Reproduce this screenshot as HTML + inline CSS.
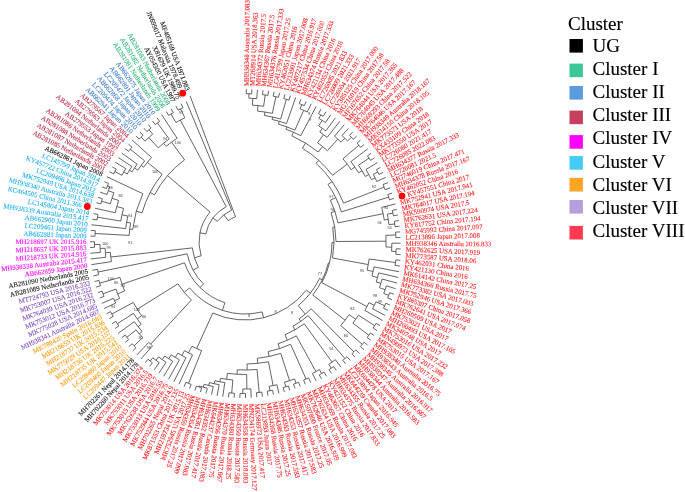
<!DOCTYPE html>
<html><head><meta charset="utf-8"><style>
html,body{margin:0;padding:0;background:#fff;width:685px;height:492px;overflow:hidden}
svg{display:block;font-family:"Liberation Serif","Times New Roman",serif}
</style></head><body>
<svg width="685" height="492" viewBox="0 0 685 492">
<rect width="685" height="492" fill="#fff"/>
<g id="tree" fill="none" stroke="#484848" stroke-width="0.85">
<path d="M228.40,220.71A27.00,27.00 0 0 1 235.50,216.73 M235.50,216.73L190.11,95.97 M228.40,220.71L223.79,214.79 M217.38,221.32A34.50,34.50 0 0 1 231.69,210.17 M231.69,210.17L186.16,101.35 M217.38,221.32L212.98,218.03 M205.82,233.97A40.00,40.00 0 0 1 226.25,206.67 M226.25,206.67L180.32,120.10 M175.90,122.55A138.00,138.00 0 0 1 184.83,117.81 M175.90,122.55L170.97,114.03 M168.63,115.41A147.84,147.84 0 0 1 173.33,112.69 M168.63,115.41L166.31,111.56 M173.33,112.69L171.13,108.73 M184.83,117.81L180.51,108.90 M178.08,110.10A147.90,147.90 0 0 1 182.96,107.74 M178.08,110.10L176.05,106.09 M182.96,107.74L181.06,103.63 M205.82,233.97L199.94,232.76 M201.11,255.77A46.00,46.00 0 0 1 210.07,212.07 M210.07,212.07L167.55,175.63 M154.55,194.85A102.00,102.00 0 0 1 184.54,159.85 M154.55,194.85L150.12,192.53 M142.06,212.82A107.00,107.00 0 0 1 162.13,174.31 M142.06,212.82L136.28,211.18 M132.69,229.50A113.00,113.00 0 0 1 142.84,193.71 M132.69,229.50L129.71,229.17 M129.19,235.42A116.00,116.00 0 0 1 130.57,222.95 M129.19,235.42L95.11,233.49 M94.98,236.24A150.13,150.13 0 0 1 95.29,230.74 M94.98,236.24L90.30,236.06 M95.29,230.74L90.80,230.41 M130.57,222.95L126.63,222.29 M125.75,228.62A120.00,120.00 0 0 1 127.85,216.02 M125.75,228.62L91.51,224.78 M127.85,216.02L121.99,214.72 M120.75,221.10A126.00,126.00 0 0 1 123.56,208.42 M120.75,221.10L97.48,217.18 M97.05,219.89A149.59,149.59 0 0 1 97.96,214.48 M97.05,219.89L92.42,219.20 M97.96,214.48L93.54,213.65 M123.56,208.42L116.81,206.56 M115.25,212.76A133.00,133.00 0 0 1 118.66,200.43 M115.25,212.76L94.85,208.16 M118.66,200.43L112.01,198.24 M110.32,203.76A140.00,140.00 0 0 1 113.93,192.80 M110.32,203.76L101.62,201.29 M100.89,203.93A149.05,149.05 0 0 1 102.39,198.67 M100.89,203.93L96.37,202.73 M102.39,198.67L98.08,197.36 M113.93,192.80L108.31,190.69 M106.95,194.47A146.00,146.00 0 0 1 109.77,186.95 M106.95,194.47L99.98,192.07 M109.77,186.95L107.45,186.01 M106.45,188.54A148.51,148.51 0 0 1 108.50,183.50 M106.45,188.54L102.08,186.85 M108.50,183.50L104.36,181.72 M142.84,193.71L106.83,176.69 M162.13,174.31L147.42,162.29 M143.57,167.25A126.00,126.00 0 0 1 151.51,157.53 M143.57,167.25L141.16,165.47 M137.84,170.18A129.00,129.00 0 0 1 144.68,160.91 M137.84,170.18L134.52,167.95 M132.04,171.79A133.00,133.00 0 0 1 137.13,164.20 M132.04,171.79L129.49,170.21 M127.25,173.95A136.00,136.00 0 0 1 131.85,166.54 M127.25,173.95L123.79,171.95 M121.91,175.31A140.00,140.00 0 0 1 125.76,168.64 M121.91,175.31L114.90,171.51 M113.63,173.90A147.97,147.97 0 0 1 116.21,169.14 M113.63,173.90L109.47,171.75 M116.21,169.14L112.30,166.92 M125.76,168.64L115.29,162.20 M131.85,166.54L118.45,157.60 M137.13,164.20L121.71,153.08 M144.68,160.91L130.26,149.25 M128.58,151.37A147.54,147.54 0 0 1 131.98,147.16 M128.58,151.37L125.03,148.60 M131.98,147.16L128.51,144.25 M151.51,157.53L132.14,140.03 M184.54,159.85L171.50,142.13 M166.13,146.32A124.00,124.00 0 0 1 177.10,138.24 M166.13,146.32L163.58,143.23 M158.28,147.86A128.00,128.00 0 0 1 169.13,138.91 M158.28,147.86L148.79,137.56 M145.03,141.15A142.00,142.00 0 0 1 152.68,134.10 M145.03,141.15L141.07,137.15 M139.16,139.08A147.63,147.63 0 0 1 143.00,135.27 M139.16,139.08L135.94,135.94 M143.00,135.27L139.87,131.99 M152.68,134.10L148.98,129.78 M146.94,131.56A147.69,147.69 0 0 1 151.06,128.04 M146.94,131.56L143.96,128.19 M151.06,128.04L148.18,124.54 M169.13,138.91L157.43,123.00 M155.26,124.62A147.75,147.75 0 0 1 159.62,121.41 M155.26,124.62L152.53,121.05 M159.62,121.41L157.00,117.72 M177.10,138.24L161.60,114.55 M201.11,255.77L194.43,257.87 M198.40,267.25A53.00,53.00 0 0 1 192.33,247.90 M192.33,247.90L110.84,257.03 M111.44,261.67A135.00,135.00 0 0 1 110.40,252.37 M111.44,261.67L91.38,264.63 M110.40,252.37L105.41,252.75 M105.83,257.27A140.00,140.00 0 0 1 105.14,248.23 M105.83,257.27L90.72,258.92 M105.14,248.23L100.14,248.45 M100.38,252.47A145.00,145.00 0 0 1 100.02,244.43 M100.38,252.47L90.27,253.20 M100.02,244.43L94.53,244.52 M94.60,247.30A150.49,150.49 0 0 1 94.51,241.74 M94.60,247.30L90.03,247.47 M94.51,241.74L90.01,241.73 M198.40,267.25L193.12,270.10 M203.52,283.96A59.00,59.00 0 0 1 187.20,253.82 M187.20,253.82L98.04,272.06 M98.62,274.77A150.00,150.00 0 0 1 97.51,269.34 M98.62,274.77L93.33,275.96 M97.51,269.34L92.25,270.31 M203.52,283.96L200.01,287.52 M224.90,302.76A64.00,64.00 0 0 1 184.48,262.80 M184.48,262.80L122.06,284.26 M124.59,290.99A130.00,130.00 0 0 1 119.91,277.40 M124.59,290.99L117.67,293.81 M119.65,298.44A137.47,137.47 0 0 1 115.86,289.11 M119.65,298.44L114.61,300.71 M115.70,303.08A143.00,143.00 0 0 1 113.56,298.32 M115.70,303.08L104.09,308.57 M113.56,298.32L101.82,303.35 M115.86,289.11L103.02,293.79 M104.00,296.41A151.13,151.13 0 0 1 102.08,291.15 M104.00,296.41L99.74,298.05 M102.08,291.15L97.83,292.62 M119.91,277.40L99.71,283.11 M100.50,285.79A150.99,150.99 0 0 1 98.98,280.42 M100.50,285.79L96.12,287.12 M98.98,280.42L94.63,281.56 M224.90,302.76L222.38,310.36 M262.13,311.93A72.00,72.00 0 0 1 189.54,287.91 M189.54,287.91L184.15,292.38 M191.40,300.03A79.00,79.00 0 0 1 177.98,283.82 M177.98,283.82L137.25,309.23 M141.60,315.74A127.00,127.00 0 0 1 133.31,302.46 M141.60,315.74L137.21,318.88 M141.20,324.19A132.40,132.40 0 0 1 133.48,313.36 M141.20,324.19L138.07,326.68 M142.05,331.47A136.40,136.40 0 0 1 134.31,321.71 M142.05,331.47L139.33,333.83 M142.75,337.63A140.00,140.00 0 0 1 136.04,329.91 M142.75,337.63L134.06,345.76 M135.98,347.77A151.90,151.90 0 0 1 132.19,343.72 M135.98,347.77L132.70,350.96 M132.19,343.72L128.84,346.73 M136.04,329.91L126.89,337.30 M128.65,339.44A151.76,151.76 0 0 1 125.17,335.12 M128.65,339.44L125.15,342.37 M125.17,335.12L121.62,337.88 M134.31,321.71L118.25,333.27 M133.48,313.36L117.35,323.69 M118.86,326.01A151.55,151.55 0 0 1 115.88,321.34 M118.86,326.01L115.06,328.54 M115.88,321.34L112.04,323.70 M133.31,302.46L111.85,314.08 M113.19,316.50A151.41,151.41 0 0 1 110.55,311.64 M113.19,316.50L109.21,318.75 M110.55,311.64L106.56,313.71 M191.40,300.03L150.69,344.11 M152.57,345.82A139.00,139.00 0 0 1 148.84,342.37 M152.57,345.82L140.86,358.97 M148.84,342.37L136.71,355.04 M262.13,311.93L263.56,317.76 M306.40,290.10A78.00,78.00 0 0 1 212.78,313.04 M212.78,313.04L196.67,348.55 M201.58,350.64A117.00,117.00 0 0 1 191.87,346.24 M201.58,350.64L188.51,383.32 M191.11,384.33A152.19,152.19 0 0 1 185.94,382.27 M191.11,384.33L189.51,388.54 M185.94,382.27L184.17,386.48 M191.87,346.24L188.52,352.83 M192.57,354.81A124.39,124.39 0 0 1 184.54,350.71 M192.57,354.81L178.90,384.22 M184.54,350.71L181.87,355.50 M186.00,357.70A129.87,129.87 0 0 1 177.83,353.15 M186.00,357.70L173.72,381.77 M177.83,353.15L175.28,357.38 M179.41,359.77A134.80,134.80 0 0 1 171.24,354.84 M179.41,359.77L168.62,379.14 M171.24,354.84L168.72,358.69 M172.76,361.24A139.41,139.41 0 0 1 164.77,356.01 M172.76,361.24L163.67,376.24 M164.77,356.01L162.25,359.59 M166.05,362.18A143.79,143.79 0 0 1 158.53,356.89 M166.05,362.18L158.86,373.13 M158.53,356.89L156.00,360.25 M159.27,362.64A148.00,148.00 0 0 1 152.79,357.77 M159.27,362.64L154.16,369.83 M152.79,357.77L150.19,361.04 M152.38,362.75A152.18,152.18 0 0 1 148.03,359.28 M152.38,362.75L149.60,366.37 M148.03,359.28L145.16,362.75 M306.40,290.10L310.34,293.18 M319.55,278.49A83.00,83.00 0 0 1 298.28,305.65 M298.28,305.65L305.34,314.08 M311.17,308.76A94.00,94.00 0 0 1 299.07,318.89 M311.17,308.76L353.87,351.85 M355.84,349.86A154.66,154.66 0 0 1 351.87,353.80 M355.84,349.86L359.53,353.45 M351.87,353.80L354.98,357.05 M299.07,318.89L300.80,321.34 M308.13,315.65A97.00,97.00 0 0 1 292.96,326.31 M308.13,315.65L344.87,358.51 M346.96,356.69A153.46,153.46 0 0 1 342.75,360.30 M346.96,356.69L350.32,360.47 M342.75,360.30L345.61,363.77 M292.96,326.31L294.94,329.79 M304.28,323.77A101.00,101.00 0 0 1 285.00,334.74 M304.28,323.77L332.06,362.10 M335.29,359.69A148.34,148.34 0 0 1 328.77,364.41 M335.29,359.69L341.02,367.16 M328.77,364.41L331.32,368.13 M333.58,366.55A152.84,152.84 0 0 1 329.02,369.67 M333.58,366.55L336.31,370.38 M329.02,369.67L331.50,373.43 M285.00,334.74L287.37,340.25 M296.36,335.87A107.00,107.00 0 0 1 278.01,343.78 M296.36,335.87L315.91,371.58 M319.40,369.61A147.72,147.72 0 0 1 312.37,373.46 M319.40,369.61L321.66,373.50 M324.03,372.09A152.22,152.22 0 0 1 319.27,374.87 M324.03,372.09L326.58,376.29 M319.27,374.87L321.47,378.79 M312.37,373.46L316.14,380.81 M278.01,343.78L279.56,348.54 M290.60,344.30A112.00,112.00 0 0 1 268.12,351.59 M290.60,344.30L306.07,379.00 M308.54,377.88A150.00,150.00 0 0 1 303.59,380.09 M308.54,377.88L310.76,382.62 M303.59,380.09L305.34,384.23 M268.12,351.59L269.16,356.48 M280.79,353.39A117.00,117.00 0 0 1 257.27,358.35 M280.79,353.39L289.55,380.66 M294.53,378.95A145.64,145.64 0 0 1 284.50,382.18 M294.53,378.95L296.06,383.19 M298.61,382.24A150.14,150.14 0 0 1 293.50,384.09 M298.61,382.24L300.21,386.44 M293.50,384.09L295.00,388.47 M284.50,382.18L285.80,386.77 M288.41,386.01A150.41,150.41 0 0 1 283.17,387.48 M288.41,386.01L289.71,390.31 M283.17,387.48L284.35,391.96 M257.27,358.35L257.80,363.33 M268.44,361.73A122.00,122.00 0 0 1 247.05,363.98 M268.44,361.73L273.11,385.59 M276.99,384.77A146.31,146.31 0 0 1 269.21,386.29 M276.99,384.77L278.93,393.42 M269.21,386.29L269.95,390.73 M272.64,390.26A150.81,150.81 0 0 1 267.26,391.16 M272.64,390.26L273.46,394.68 M267.26,391.16L267.94,395.74 M247.05,363.98L247.15,369.98 M257.00,369.44A128.00,128.00 0 0 1 237.29,369.77 M257.00,369.44L259.16,392.42 M261.88,392.14A151.08,151.08 0 0 1 256.44,392.65 M261.88,392.14L262.38,396.61 M256.44,392.65L256.79,397.27 M237.29,369.77L237.02,374.26 M246.65,374.49A132.50,132.50 0 0 1 227.43,373.33 M246.65,374.49L246.83,388.98 M250.83,388.87A146.99,146.99 0 0 1 242.83,388.97 M250.83,388.87L251.18,397.73 M242.83,388.97L242.76,393.47 M245.53,393.49A151.49,151.49 0 0 1 239.99,393.40 M245.53,393.49L245.54,397.99 M239.99,393.40L239.84,397.98 M227.43,373.33L226.64,379.28 M232.85,379.97A138.50,138.50 0 0 1 220.46,378.31 M232.85,379.97L231.69,393.05 M234.45,393.27A151.63,151.63 0 0 1 228.93,392.78 M234.45,393.27L234.14,397.75 M228.93,392.78L228.45,397.32 M220.46,378.31L219.84,381.75 M224.81,382.56A142.00,142.00 0 0 1 214.91,380.78 M224.81,382.56L222.78,396.68 M214.91,380.78L214.28,383.71 M219.15,384.68A145.00,145.00 0 0 1 209.44,382.57 M219.15,384.68L217.13,395.84 M209.44,382.57L208.70,385.48 M213.31,386.57A148.00,148.00 0 0 1 204.14,384.25 M213.31,386.57L211.51,394.78 M204.14,384.25L203.31,387.13 M207.30,388.22A151.00,151.00 0 0 1 199.35,385.93 M207.30,388.22L205.93,393.53 M199.35,385.93L199.03,386.94 M201.68,387.75A152.05,152.05 0 0 1 196.39,386.07 M201.68,387.75L200.40,392.06 M196.39,386.07L194.93,390.40 M319.55,278.49L322.24,279.81 M328.39,263.03A86.00,86.00 0 0 1 312.77,294.95 M312.77,294.95L345.07,320.19 M349.17,314.65A127.00,127.00 0 0 1 340.69,325.50 M349.17,314.65L355.73,319.23 M358.45,315.18A135.00,135.00 0 0 1 352.86,323.18 M358.45,315.18L374.66,325.64 M376.15,323.28A154.30,154.30 0 0 1 373.13,327.97 M376.15,323.28L379.98,325.65 M373.13,327.97L377.15,330.67 M352.86,323.18L368.83,335.20 M370.50,332.95A154.99,154.99 0 0 1 367.13,337.43 M370.50,332.95L374.14,335.59 M367.13,337.43L370.95,340.41 M340.69,325.50L362.29,344.36 M364.13,342.22A155.68,155.68 0 0 1 360.42,346.47 M364.13,342.22L367.57,345.12 M360.42,346.47L363.97,349.67 M328.39,263.03L329.36,263.27 M332.00,242.61A87.00,87.00 0 0 1 321.89,282.71 M321.89,282.71L366.96,306.58 M368.94,302.69A138.00,138.00 0 0 1 364.85,310.41 M368.94,302.69L374.33,305.33 M376.00,301.80A144.00,144.00 0 0 1 372.56,308.81 M376.00,301.80L384.70,305.77 M385.83,303.23A153.57,153.57 0 0 1 383.52,308.29 M385.83,303.23L389.96,305.03 M383.52,308.29L387.71,310.29 M372.56,308.81L385.27,315.47 M364.85,310.41L382.64,320.56 M332.00,242.61L334.00,242.63 M332.76,227.20A89.00,89.00 0 0 1 332.54,258.03 M332.54,258.03L368.25,264.57 M369.14,258.98A125.30,125.30 0 0 1 367.11,270.10 M369.14,258.98L395.50,262.59 M395.85,259.83A151.90,151.90 0 0 1 395.10,265.33 M395.85,259.83L400.32,260.36 M395.10,265.33L399.82,266.07 M367.11,270.10L373.05,271.47 M374.02,266.92A131.40,131.40 0 0 1 371.93,275.99 M374.02,266.92L399.11,271.76 M371.93,275.99L377.53,277.49 M378.67,272.92A137.20,137.20 0 0 1 376.24,282.01 M378.67,272.92L398.19,277.44 M376.24,282.01L380.83,283.41 M382.08,279.04A142.00,142.00 0 0 1 379.43,287.73 M382.08,279.04L397.05,283.09 M379.43,287.73L385.12,289.66 M386.37,285.80A148.00,148.00 0 0 1 383.76,293.49 M386.37,285.80L395.58,288.66 M383.76,293.49L388.71,295.33 M389.66,292.69A153.29,153.29 0 0 1 387.71,297.94 M389.66,292.69L393.91,294.18 M387.71,297.94L392.03,299.64 M332.76,227.20L334.73,226.87 M331.14,212.66A91.00,91.00 0 0 1 336.00,241.48 M336.00,241.48L386.00,241.19 M385.85,235.40A141.00,141.00 0 0 1 385.91,246.99 M385.85,235.40L395.74,234.93 M395.59,232.18A150.91,150.91 0 0 1 395.85,237.69 M395.59,232.18L400.08,231.89 M395.85,237.69L400.40,237.56 M385.91,246.99L391.75,247.20 M391.84,243.17A146.84,146.84 0 0 1 391.55,251.22 M391.84,243.17L400.56,243.24 M391.55,251.22L396.04,251.50 M396.19,248.74A151.34,151.34 0 0 1 395.84,254.26 M396.19,248.74L400.69,248.94 M395.84,254.26L400.61,254.65 M331.14,212.66L334.93,211.37 M330.36,200.30A95.00,95.00 0 0 1 338.06,222.92 M338.06,222.92L383.13,213.68 M381.69,207.40A141.00,141.00 0 0 1 384.28,220.02 M381.69,207.40L395.40,203.93 M384.28,220.02L388.23,219.40 M387.31,214.18A145.00,145.00 0 0 1 388.96,224.65 M387.31,214.18L392.90,213.08 M392.34,210.38A150.70,150.70 0 0 1 393.40,215.79 M392.34,210.38L396.74,209.44 M393.40,215.79L397.88,215.00 M388.96,224.65L394.72,223.95 M394.36,221.22A150.80,150.80 0 0 1 395.02,226.69 M394.36,221.22L398.82,220.60 M395.02,226.69L399.55,226.23 M330.36,200.30L335.75,197.67 M328.01,184.47A101.00,101.00 0 0 1 341.41,211.89 M341.41,211.89L388.66,197.13 M387.81,194.52A150.50,150.50 0 0 1 389.45,199.76 M387.81,194.52L392.12,193.08 M389.45,199.76L393.86,198.47 M328.01,184.47L332.12,181.62 M316.04,163.33A106.00,106.00 0 0 1 343.60,203.10 M343.60,203.10L384.07,187.14 M383.05,184.61A149.50,149.50 0 0 1 385.05,189.69 M383.05,184.61L388.01,182.55 M385.05,189.69L390.18,187.77 M316.04,163.33L318.72,160.36 M302.43,148.18A110.00,110.00 0 0 1 332.49,175.32 M302.43,148.18L305.57,143.07 M291.86,135.88A116.00,116.00 0 0 1 318.20,152.01 M291.86,135.88L293.47,132.23 M285.96,129.21A120.00,120.00 0 0 1 300.76,135.74 M285.96,129.21L286.82,126.86 M278.54,124.18A122.50,122.50 0 0 1 294.88,130.12 M278.54,124.18L279.36,121.30 M272.08,119.46A125.50,125.50 0 0 1 286.53,123.57 M272.08,119.46L272.62,117.01 M264.44,115.48A128.00,128.00 0 0 1 280.68,119.07 M264.44,115.48L264.97,112.03 M257.53,111.10A131.50,131.50 0 0 1 272.35,113.37 M257.53,111.10L258.05,105.62 M252.44,105.20A137.00,137.00 0 0 1 263.64,106.27 M252.44,105.20L252.81,98.40 M248.88,98.24A143.81,143.81 0 0 1 256.74,98.67 M248.88,98.24L249.00,93.75 M246.29,93.70A148.31,148.31 0 0 1 251.71,93.84 M246.29,93.70L246.33,89.20 M251.71,93.84L251.91,89.31 M256.74,98.67L257.48,89.63 M263.64,106.27L265.19,94.97 M262.51,94.62A148.41,148.41 0 0 1 267.87,95.36 M262.51,94.62L263.04,90.15 M267.87,95.36L268.57,90.88 M272.35,113.37L275.88,96.76 M273.22,96.22A148.48,148.48 0 0 1 278.52,97.35 M273.22,96.22L274.08,91.81 M278.52,97.35L279.55,92.93 M280.68,119.07L286.41,99.34 M283.80,98.60A148.55,148.55 0 0 1 289.01,100.12 M283.80,98.60L284.97,94.26 M289.01,100.12L290.35,95.78 M286.53,123.57L295.67,97.50 M294.88,130.12L303.70,110.34 M300.07,108.78A144.16,144.16 0 0 1 307.28,111.99 M300.07,108.78L301.79,104.62 M299.28,103.61A148.66,148.66 0 0 1 304.29,105.68 M299.28,103.61L300.92,99.42 M304.29,105.68L306.10,101.52 M307.28,111.99L311.20,103.81 M300.76,135.74L316.22,106.29 M318.20,152.01L322.62,146.58 M317.62,142.72A123.00,123.00 0 0 1 327.41,150.69 M317.62,142.72L323.52,134.65 M319.80,132.03A133.00,133.00 0 0 1 327.15,137.40 M319.80,132.03L322.33,128.31 M318.66,125.90A137.50,137.50 0 0 1 325.93,130.84 M318.66,125.90L322.15,120.41 M318.79,118.34A144.00,144.00 0 0 1 325.45,122.57 M318.79,118.34L320.84,114.91 M318.51,113.55A148.00,148.00 0 0 1 323.15,116.31 M318.51,113.55L321.14,108.95 M323.15,116.31L325.98,111.76 M325.45,122.57L330.72,114.74 M325.93,130.84L335.35,117.89 M327.15,137.40L339.86,121.21 M327.41,150.69L337.86,139.11 M334.53,136.20A138.60,138.60 0 0 1 341.10,142.13 M334.53,136.20L344.26,124.70 M341.10,142.13L344.84,138.24 M341.97,135.54A144.00,144.00 0 0 1 347.65,141.01 M341.97,135.54L348.52,128.35 M347.65,141.01L351.43,137.29 M349.50,135.36A149.30,149.30 0 0 1 353.32,139.25 M349.50,135.36L352.65,132.15 M353.32,139.25L356.64,136.10 M332.49,175.32L347.20,164.11 M342.93,158.80A128.50,128.50 0 0 1 351.19,169.64 M342.93,158.80L358.89,145.23 M357.11,143.17A149.45,149.45 0 0 1 360.64,147.33 M357.11,143.17L360.49,140.20 M360.64,147.33L364.19,144.43 M351.19,169.64L354.91,167.10 M350.92,161.56A133.00,133.00 0 0 1 358.60,172.84 M350.92,161.56L367.75,148.78 M358.60,172.84L362.02,170.76 M358.47,165.24A137.00,137.00 0 0 1 365.30,176.45 M358.47,165.24L369.03,158.10 M367.48,155.85A149.74,149.74 0 0 1 370.54,160.37 M367.48,155.85L371.16,153.26 M370.54,160.37L374.40,157.86 M365.30,176.45L368.81,174.53 M365.94,169.51A141.00,141.00 0 0 1 371.48,179.67 M365.94,169.51L377.48,162.59 M371.48,179.67L375.06,177.90 M373.26,174.37A145.00,145.00 0 0 1 376.77,181.49 M373.26,174.37L377.73,172.01 M376.44,169.60A150.06,150.06 0 0 1 378.99,174.44 M376.44,169.60L380.38,167.43 M378.99,174.44L383.10,172.37 M376.77,181.49L385.65,177.41"/>
</g>
<g id="labels" font-size="6.9" stroke-width="0.1">
<text transform="translate(245.0,242.0) rotate(-89.50) translate(156.0,0)" dy="2.4" fill="#ff1a1a" stroke="#ff1a1a">MH938348 Australia 2017.083</text>
<text transform="translate(245.0,242.0) rotate(-87.41) translate(156.2,0)" dy="2.4" fill="#ff1a1a" stroke="#ff1a1a">MT268914 USA 2018.363</text>
<text transform="translate(245.0,242.0) rotate(-85.32) translate(156.4,0)" dy="2.4" fill="#ff1a1a" stroke="#ff1a1a">MH634372 Russia 2017.5</text>
<text transform="translate(245.0,242.0) rotate(-83.23) translate(156.6,0)" dy="2.4" fill="#ff1a1a" stroke="#ff1a1a">MH634367 Russia 2017.5</text>
<text transform="translate(245.0,242.0) rotate(-81.13) translate(156.8,0)" dy="2.4" fill="#ff1a1a" stroke="#ff1a1a">MH634376 Russia 2017.333</text>
<text transform="translate(245.0,242.0) rotate(-79.04) translate(156.9,0)" dy="2.4" fill="#ff1a1a" stroke="#ff1a1a">LC413799 Japan 2017.25</text>
<text transform="translate(245.0,242.0) rotate(-76.95) translate(157.1,0)" dy="2.4" fill="#ff1a1a" stroke="#ff1a1a">KY462051 China 2016</text>
<text transform="translate(245.0,242.0) rotate(-74.86) translate(157.3,0)" dy="2.4" fill="#ff1a1a" stroke="#ff1a1a">LC213901 Japan 2017.008</text>
<text transform="translate(245.0,242.0) rotate(-72.77) translate(157.5,0)" dy="2.4" fill="#ff1a1a" stroke="#ff1a1a">KY407217 China 2016.917</text>
<text transform="translate(245.0,242.0) rotate(-70.68) translate(157.7,0)" dy="2.4" fill="#ff1a1a" stroke="#ff1a1a">KY457534 China 2017.000</text>
<text transform="translate(245.0,242.0) rotate(-68.59) translate(157.9,0)" dy="2.4" fill="#ff1a1a" stroke="#ff1a1a">MH634374 Russia 2017.333</text>
<text transform="translate(245.0,242.0) rotate(-66.49) translate(158.0,0)" dy="2.4" fill="#ff1a1a" stroke="#ff1a1a">KY421134 China 2016</text>
<text transform="translate(245.0,242.0) rotate(-64.40) translate(158.2,0)" dy="2.4" fill="#ff1a1a" stroke="#ff1a1a">KY462053 China 2016</text>
<text transform="translate(245.0,242.0) rotate(-62.31) translate(158.4,0)" dy="2.4" fill="#ff1a1a" stroke="#ff1a1a">LC726005 2021.833</text>
<text transform="translate(245.0,242.0) rotate(-60.22) translate(158.6,0)" dy="2.4" fill="#ff1a1a" stroke="#ff1a1a">LC726009 2021.333</text>
<text transform="translate(245.0,242.0) rotate(-58.13) translate(158.7,0)" dy="2.4" fill="#ff1a1a" stroke="#ff1a1a">LC726004 2021.917</text>
<text transform="translate(245.0,242.0) rotate(-56.04) translate(158.8,0)" dy="2.4" fill="#ff1a1a" stroke="#ff1a1a">KY385125 China 2017.000</text>
<text transform="translate(245.0,242.0) rotate(-53.95) translate(158.9,0)" dy="2.4" fill="#ff1a1a" stroke="#ff1a1a">MG716019 China 2017.58</text>
<text transform="translate(245.0,242.0) rotate(-51.85) translate(159.0,0)" dy="2.4" fill="#ff1a1a" stroke="#ff1a1a">MF167652 China 2017.58</text>
<text transform="translate(245.0,242.0) rotate(-49.76) translate(159.1,0)" dy="2.4" fill="#ff1a1a" stroke="#ff1a1a">MK764044 USA 2017.365</text>
<text transform="translate(245.0,242.0) rotate(-47.67) translate(159.2,0)" dy="2.4" fill="#ff1a1a" stroke="#ff1a1a">MK764045 USA 2017.488</text>
<text transform="translate(245.0,242.0) rotate(-45.58) translate(159.2,0)" dy="2.4" fill="#ff1a1a" stroke="#ff1a1a">MH669293 China 2017.522</text>
<text transform="translate(245.0,242.0) rotate(-43.49) translate(159.3,0)" dy="2.4" fill="#ff1a1a" stroke="#ff1a1a">MK764046 USA 2017.167</text>
<text transform="translate(245.0,242.0) rotate(-41.40) translate(159.4,0)" dy="2.4" fill="#ff1a1a" stroke="#ff1a1a">MH938349 Australia 2018.167</text>
<text transform="translate(245.0,242.0) rotate(-39.31) translate(159.5,0)" dy="2.4" fill="#ff1a1a" stroke="#ff1a1a">MK614150 China 2018.105</text>
<text transform="translate(245.0,242.0) rotate(-37.21) translate(159.6,0)" dy="2.4" fill="#ff1a1a" stroke="#ff1a1a">MK773571 USA 2018</text>
<text transform="translate(245.0,242.0) rotate(-35.12) translate(159.6,0)" dy="2.4" fill="#ff1a1a" stroke="#ff1a1a">KX433109 China 2018</text>
<text transform="translate(245.0,242.0) rotate(-33.03) translate(159.7,0)" dy="2.4" fill="#ff1a1a" stroke="#ff1a1a">MK773550 USA 2017</text>
<text transform="translate(245.0,242.0) rotate(-30.94) translate(159.7,0)" dy="2.4" fill="#ff1a1a" stroke="#ff1a1a">LC726080 2021.417</text>
<text transform="translate(245.0,242.0) rotate(-28.85) translate(159.8,0)" dy="2.4" fill="#ff1a1a" stroke="#ff1a1a">LC726085 2022.083</text>
<text transform="translate(245.0,242.0) rotate(-26.76) translate(159.8,0)" dy="2.4" fill="#ff1a1a" stroke="#ff1a1a">MH634377 Russia 2017.333</text>
<text transform="translate(245.0,242.0) rotate(-24.67) translate(159.9,0)" dy="2.4" fill="#ff1a1a" stroke="#ff1a1a">LC726081 2021.5</text>
<text transform="translate(245.0,242.0) rotate(-22.57) translate(159.9,0)" dy="2.4" fill="#ff1a1a" stroke="#ff1a1a">MG746019 China 2017.471</text>
<text transform="translate(245.0,242.0) rotate(-20.48) translate(160.0,0)" dy="2.4" fill="#ff1a1a" stroke="#ff1a1a">MH634378 Russia 2017.167</text>
<text transform="translate(245.0,242.0) rotate(-18.39) translate(160.0,0)" dy="2.4" fill="#ff1a1a" stroke="#ff1a1a">KY462052 China 2016</text>
<text transform="translate(245.0,242.0) rotate(-16.30) translate(169.1,0)" dy="2.4" fill="#ff1a1a" stroke="#ff1a1a">KY457551 China 2017</text>
<text transform="translate(245.0,242.0) rotate(-14.21) translate(160.1,0)" dy="2.4" fill="#ff1a1a" stroke="#ff1a1a">MK752941 USA 2017.941</text>
<text transform="translate(245.0,242.0) rotate(-12.11) translate(160.2,0)" dy="2.4" fill="#ff1a1a" stroke="#ff1a1a">MK764017 USA 2017.194</text>
<text transform="translate(245.0,242.0) rotate(-10.02) translate(160.2,0)" dy="2.4" fill="#ff1a1a" stroke="#ff1a1a">MK590974 USA 2017.5</text>
<text transform="translate(245.0,242.0) rotate(-7.92) translate(160.3,0)" dy="2.4" fill="#ff1a1a" stroke="#ff1a1a">MK762631 USA 2017.224</text>
<text transform="translate(245.0,242.0) rotate(-5.83) translate(160.4,0)" dy="2.4" fill="#ff1a1a" stroke="#ff1a1a">KY817752 China 2017.194</text>
<text transform="translate(245.0,242.0) rotate(-3.73) translate(160.4,0)" dy="2.4" fill="#ff1a1a" stroke="#ff1a1a">MG745992 China 2017.097</text>
<text transform="translate(245.0,242.0) rotate(-1.64) translate(160.5,0)" dy="2.4" fill="#ff1a1a" stroke="#ff1a1a">LC213896 Japan 2017.008</text>
<text transform="translate(245.0,242.0) rotate(0.46) translate(160.5,0)" dy="2.4" fill="#ff1a1a" stroke="#ff1a1a">MH938346 Australia 2016.833</text>
<text transform="translate(245.0,242.0) rotate(2.55) translate(160.8,0)" dy="2.4" fill="#ff1a1a" stroke="#ff1a1a">MK762625 USA 2017.919</text>
<text transform="translate(245.0,242.0) rotate(4.65) translate(161.0,0)" dy="2.4" fill="#ff1a1a" stroke="#ff1a1a">MK773587 USA 2018.06</text>
<text transform="translate(245.0,242.0) rotate(6.74) translate(161.2,0)" dy="2.4" fill="#ff1a1a" stroke="#ff1a1a">KY462031 China 2016</text>
<text transform="translate(245.0,242.0) rotate(8.84) translate(161.4,0)" dy="2.4" fill="#ff1a1a" stroke="#ff1a1a">KY421130 China 2016</text>
<text transform="translate(245.0,242.0) rotate(10.93) translate(161.6,0)" dy="2.4" fill="#ff1a1a" stroke="#ff1a1a">MK614142 China 2017.25</text>
<text transform="translate(245.0,242.0) rotate(13.03) translate(161.8,0)" dy="2.4" fill="#ff1a1a" stroke="#ff1a1a">MH634366 Russia 2017.75</text>
<text transform="translate(245.0,242.0) rotate(15.12) translate(162.0,0)" dy="2.4" fill="#ff1a1a" stroke="#ff1a1a">MK773382 USA 2017.003</text>
<text transform="translate(245.0,242.0) rotate(17.22) translate(162.1,0)" dy="2.4" fill="#ff1a1a" stroke="#ff1a1a">MK752946 USA 2017.366</text>
<text transform="translate(245.0,242.0) rotate(19.31) translate(162.3,0)" dy="2.4" fill="#ff1a1a" stroke="#ff1a1a">KY865307 China 2017.058</text>
<text transform="translate(245.0,242.0) rotate(21.41) translate(162.4,0)" dy="2.4" fill="#ff1a1a" stroke="#ff1a1a">MK762641 USA 2017.074</text>
<text transform="translate(245.0,242.0) rotate(23.50) translate(162.6,0)" dy="2.4" fill="#ff1a1a" stroke="#ff1a1a">MH260509 USA 2017</text>
<text transform="translate(245.0,242.0) rotate(25.57) translate(162.7,0)" dy="2.4" fill="#ff1a1a" stroke="#ff1a1a">MK753021 USA 2017</text>
<text transform="translate(245.0,242.0) rotate(27.64) translate(162.8,0)" dy="2.4" fill="#ff1a1a" stroke="#ff1a1a">MH260493 USA 2017.105</text>
<text transform="translate(245.0,242.0) rotate(29.72) translate(163.0,0)" dy="2.4" fill="#ff1a1a" stroke="#ff1a1a">MK340748 USA 2017</text>
<text transform="translate(245.0,242.0) rotate(31.79) translate(163.4,0)" dy="2.4" fill="#ff1a1a" stroke="#ff1a1a">MK753016 USA 2017.232</text>
<text transform="translate(245.0,242.0) rotate(33.86) translate(164.0,0)" dy="2.4" fill="#ff1a1a" stroke="#ff1a1a">MN490973 USA 2017.388</text>
<text transform="translate(245.0,242.0) rotate(35.93) translate(164.5,0)" dy="2.4" fill="#ff1a1a" stroke="#ff1a1a">MK753015 USA 2017.167</text>
<text transform="translate(245.0,242.0) rotate(38.00) translate(165.0,0)" dy="2.4" fill="#ff1a1a" stroke="#ff1a1a">MH938340 Australia 2016.75</text>
<text transform="translate(245.0,242.0) rotate(40.08) translate(165.5,0)" dy="2.4" fill="#ff1a1a" stroke="#ff1a1a">MH938343 Australia 2016.5</text>
<text transform="translate(245.0,242.0) rotate(42.15) translate(166.0,0)" dy="2.4" fill="#ff1a1a" stroke="#ff1a1a">MH938345 Australia 2016.917</text>
<text transform="translate(245.0,242.0) rotate(44.22) translate(165.6,0)" dy="2.4" fill="#ff1a1a" stroke="#ff1a1a">MH938347 Australia 2016.667</text>
<text transform="translate(245.0,242.0) rotate(46.29) translate(165.2,0)" dy="2.4" fill="#ff1a1a" stroke="#ff1a1a">MH938344 Australia 2016.583</text>
<text transform="translate(245.0,242.0) rotate(48.36) translate(164.8,0)" dy="2.4" fill="#ff1a1a" stroke="#ff1a1a">MK604478 USA 2017</text>
<text transform="translate(245.0,242.0) rotate(50.43) translate(164.4,0)" dy="2.4" fill="#ff1a1a" stroke="#ff1a1a">LC213894 Japan 2016.945</text>
<text transform="translate(245.0,242.0) rotate(52.51) translate(164.1,0)" dy="2.4" fill="#ff1a1a" stroke="#ff1a1a">MK644239 Canada 2017.083</text>
<text transform="translate(245.0,242.0) rotate(54.58) translate(163.8,0)" dy="2.4" fill="#ff1a1a" stroke="#ff1a1a">MH634355 Russia 2017.25</text>
<text transform="translate(245.0,242.0) rotate(56.65) translate(163.5,0)" dy="2.4" fill="#ff1a1a" stroke="#ff1a1a">MH634375 Russia 2017.833</text>
<text transform="translate(245.0,242.0) rotate(58.72) translate(163.2,0)" dy="2.4" fill="#ff1a1a" stroke="#ff1a1a">KY421152 China 2016</text>
<text transform="translate(245.0,242.0) rotate(60.79) translate(163.0,0)" dy="2.4" fill="#ff1a1a" stroke="#ff1a1a">KY462057 China 2016</text>
<text transform="translate(245.0,242.0) rotate(62.87) translate(162.9,0)" dy="2.4" fill="#ff1a1a" stroke="#ff1a1a">MH634369 Russia 2017.083</text>
<text transform="translate(245.0,242.0) rotate(64.94) translate(162.8,0)" dy="2.4" fill="#ff1a1a" stroke="#ff1a1a">MK762634 USA 2016.999</text>
<text transform="translate(245.0,242.0) rotate(67.01) translate(162.6,0)" dy="2.4" fill="#ff1a1a" stroke="#ff1a1a">MK762640 USA 2016.939</text>
<text transform="translate(245.0,242.0) rotate(69.08) translate(162.5,0)" dy="2.4" fill="#ff1a1a" stroke="#ff1a1a">MK507800 France 2017.05</text>
<text transform="translate(245.0,242.0) rotate(71.15) translate(162.5,0)" dy="2.4" fill="#ff1a1a" stroke="#ff1a1a">MH634351 Russia 2017.25</text>
<text transform="translate(245.0,242.0) rotate(73.23) translate(162.4,0)" dy="2.4" fill="#ff1a1a" stroke="#ff1a1a">MH634357 Russia 2017.583</text>
<text transform="translate(245.0,242.0) rotate(75.30) translate(162.4,0)" dy="2.4" fill="#ff1a1a" stroke="#ff1a1a">MH634353 Russia 2017.417</text>
<text transform="translate(245.0,242.0) rotate(77.37) translate(162.3,0)" dy="2.4" fill="#ff1a1a" stroke="#ff1a1a">MH634383 Russia 2017.583</text>
<text transform="translate(245.0,242.0) rotate(79.44) translate(162.3,0)" dy="2.4" fill="#ff1a1a" stroke="#ff1a1a">MH634386 Russia 2017.25</text>
<text transform="translate(245.0,242.0) rotate(81.51) translate(162.2,0)" dy="2.4" fill="#ff1a1a" stroke="#ff1a1a">MH634368 Russia 2017.75</text>
<text transform="translate(245.0,242.0) rotate(83.58) translate(162.2,0)" dy="2.4" fill="#ff1a1a" stroke="#ff1a1a">LC213893 Japan 2017</text>
<text transform="translate(245.0,242.0) rotate(85.66) translate(162.1,0)" dy="2.4" fill="#ff1a1a" stroke="#ff1a1a">MK586973 USA 2017.417</text>
<text transform="translate(245.0,242.0) rotate(87.73) translate(162.1,0)" dy="2.4" fill="#ff1a1a" stroke="#ff1a1a">MN234174 Germany 2017.127</text>
<text transform="translate(245.0,242.0) rotate(89.80) translate(162.0,0)" dy="2.4" fill="#ff1a1a" stroke="#ff1a1a">MH634358 Russia 2018.083</text>
<text transform="translate(245.0,242.0) rotate(91.89) translate(162.0,0)" dy="2.4" fill="#ff1a1a" stroke="#ff1a1a">MH634350 Russia 2017.583</text>
<text transform="translate(245.0,242.0) rotate(93.99) translate(162.0,0)" dy="2.4" fill="#ff1a1a" stroke="#ff1a1a">MH634380 Russia 2018.25</text>
<text transform="translate(245.0,242.0) rotate(96.08) translate(162.0,0)" dy="2.4" fill="#ff1a1a" stroke="#ff1a1a">MH634370 Russia 2017.667</text>
<text transform="translate(245.0,242.0) rotate(98.18) translate(162.0,0)" dy="2.4" fill="#ff1a1a" stroke="#ff1a1a">MH634356 Russia 2017.75</text>
<text transform="translate(245.0,242.0) rotate(100.27) translate(162.0,0)" dy="2.4" fill="#ff1a1a" stroke="#ff1a1a">MK644237 Canada 2017.083</text>
<text transform="translate(245.0,242.0) rotate(102.36) translate(162.0,0)" dy="2.4" fill="#ff1a1a" stroke="#ff1a1a">MH634352 Russia 2017.417</text>
<text transform="translate(245.0,242.0) rotate(104.46) translate(162.0,0)" dy="2.4" fill="#ff1a1a" stroke="#ff1a1a">MH634361 Russia 2017.083</text>
<text transform="translate(245.0,242.0) rotate(106.55) translate(162.0,0)" dy="2.4" fill="#ff1a1a" stroke="#ff1a1a">MH634354 Russia 2017.000</text>
<text transform="translate(245.0,242.0) rotate(108.65) translate(162.0,0)" dy="2.4" fill="#ff1a1a" stroke="#ff1a1a">MH634359 Russia 2017.25</text>
<text transform="translate(245.0,242.0) rotate(110.74) translate(162.0,0) rotate(180)" text-anchor="end" dy="2.4" fill="#ff1a1a" stroke="#ff1a1a">MK752945 USA 2017.25</text>
<text transform="translate(245.0,242.0) rotate(112.83) translate(162.0,0) rotate(180)" text-anchor="end" dy="2.4" fill="#ff1a1a" stroke="#ff1a1a">MH218734 UK 2015.13</text>
<text transform="translate(245.0,242.0) rotate(114.93) translate(162.0,0) rotate(180)" text-anchor="end" dy="2.4" fill="#ff1a1a" stroke="#ff1a1a">MK871553 China 2017.135</text>
<text transform="translate(245.0,242.0) rotate(117.02) translate(162.0,0) rotate(180)" text-anchor="end" dy="2.4" fill="#ff1a1a" stroke="#ff1a1a">MH702265 Nepal 2014.9</text>
<text transform="translate(245.0,242.0) rotate(119.12) translate(162.0,0) rotate(180)" text-anchor="end" dy="2.4" fill="#ff1a1a" stroke="#ff1a1a">MK752944 USA 2016.75</text>
<text transform="translate(245.0,242.0) rotate(121.21) translate(162.0,0) rotate(180)" text-anchor="end" dy="2.4" fill="#ff1a1a" stroke="#ff1a1a">MK753013 USA 2016.55</text>
<text transform="translate(245.0,242.0) rotate(123.30) translate(162.0,0) rotate(180)" text-anchor="end" dy="2.4" fill="#ff1a1a" stroke="#ff1a1a">MK762638 USA 2016.7</text>
<text transform="translate(245.0,242.0) rotate(125.40) translate(162.0,0) rotate(180)" text-anchor="end" dy="2.4" fill="#ff1a1a" stroke="#ff1a1a">MK753015 USA 2016.719</text>
<text transform="translate(245.0,242.0) rotate(127.49) translate(162.0,0) rotate(180)" text-anchor="end" dy="2.4" fill="#ff1a1a" stroke="#ff1a1a">MK753011 USA 2016.5</text>
<text transform="translate(245.0,242.0) rotate(129.58) translate(162.0,0) rotate(180)" text-anchor="end" dy="2.4" fill="#ff1a1a" stroke="#ff1a1a">MK753014 USA 2016.374</text>
<text transform="translate(245.0,242.0) rotate(131.68) translate(162.0,0) rotate(180)" text-anchor="end" dy="2.4" fill="#111111" stroke="#111111">MH702260 Nepal 2014.178</text>
<text transform="translate(245.0,242.0) rotate(133.77) translate(162.0,0) rotate(180)" text-anchor="end" dy="2.4" fill="#111111" stroke="#111111">MH702261 Nepal 2014.178</text>
<text transform="translate(245.0,242.0) rotate(135.87) translate(162.0,0) rotate(180)" text-anchor="end" dy="2.4" fill="#ff9a10" stroke="#ff9a10">LC209447 Japan 2011</text>
<text transform="translate(245.0,242.0) rotate(137.96) translate(162.0,0) rotate(180)" text-anchor="end" dy="2.4" fill="#ff9a10" stroke="#ff9a10">LC209460 Japan 2010</text>
<text transform="translate(245.0,242.0) rotate(140.05) translate(162.0,0) rotate(180)" text-anchor="end" dy="2.4" fill="#ff9a10" stroke="#ff9a10">LC209480 Japan 2010</text>
<text transform="translate(245.0,242.0) rotate(142.15) translate(162.0,0) rotate(180)" text-anchor="end" dy="2.4" fill="#ff9a10" stroke="#ff9a10">MH218735 UK 2015.541</text>
<text transform="translate(245.0,242.0) rotate(144.24) translate(162.0,0) rotate(180)" text-anchor="end" dy="2.4" fill="#ff9a10" stroke="#ff9a10">MH218736 UK 2015.225</text>
<text transform="translate(245.0,242.0) rotate(146.34) translate(162.0,0) rotate(180)" text-anchor="end" dy="2.4" fill="#ff9a10" stroke="#ff9a10">MK775029 USA 2016.157</text>
<text transform="translate(245.0,242.0) rotate(148.43) translate(162.0,0) rotate(180)" text-anchor="end" dy="2.4" fill="#ff9a10" stroke="#ff9a10">MH218737 UK 2015.534</text>
<text transform="translate(245.0,242.0) rotate(150.52) translate(161.9,0) rotate(180)" text-anchor="end" dy="2.4" fill="#ff9a10" stroke="#ff9a10">MH218655 UK 2015.836</text>
<text transform="translate(245.0,242.0) rotate(152.62) translate(161.7,0) rotate(180)" text-anchor="end" dy="2.4" fill="#ff9a10" stroke="#ff9a10">MK789420 Spain 2016.083</text>
<text transform="translate(245.0,242.0) rotate(154.71) translate(161.5,0) rotate(180)" text-anchor="end" dy="2.4" fill="#8050c0" stroke="#8050c0">MH938341 Australia 2014.667</text>
<text transform="translate(245.0,242.0) rotate(156.81) translate(161.2,0) rotate(180)" text-anchor="end" dy="2.4" fill="#8050c0" stroke="#8050c0">MK775028 USA 2014.685</text>
<text transform="translate(245.0,242.0) rotate(158.90) translate(161.0,0) rotate(180)" text-anchor="end" dy="2.4" fill="#8050c0" stroke="#8050c0">MK753012 USA 2016.773</text>
<text transform="translate(245.0,242.0) rotate(161.02) translate(160.8,0) rotate(180)" text-anchor="end" dy="2.4" fill="#8050c0" stroke="#8050c0">MK764039 USA 2016.232</text>
<text transform="translate(245.0,242.0) rotate(163.14) translate(160.5,0) rotate(180)" text-anchor="end" dy="2.4" fill="#8050c0" stroke="#8050c0">MK753007 USA 2016.522</text>
<text transform="translate(245.0,242.0) rotate(165.26) translate(160.3,0) rotate(180)" text-anchor="end" dy="2.4" fill="#8050c0" stroke="#8050c0">MT724793 USA 2016.333</text>
<text transform="translate(245.0,242.0) rotate(167.38) translate(160.0,0) rotate(180)" text-anchor="end" dy="2.4" fill="#111111" stroke="#111111">AB281089 Netherlands 2005</text>
<text transform="translate(245.0,242.0) rotate(169.50) translate(159.8,0) rotate(180)" text-anchor="end" dy="2.4" fill="#111111" stroke="#111111">AB281090 Netherlands 2005</text>
<text transform="translate(245.0,242.0) rotate(171.62) translate(159.5,0) rotate(180)" text-anchor="end" dy="2.4" fill="#ff00ff" stroke="#ff00ff">AB662859 Japan 2008</text>
<text transform="translate(245.0,242.0) rotate(173.74) translate(159.3,0) rotate(180)" text-anchor="end" dy="2.4" fill="#ff00ff" stroke="#ff00ff">MH938338 Australia 2015.417</text>
<text transform="translate(245.0,242.0) rotate(175.86) translate(159.1,0) rotate(180)" text-anchor="end" dy="2.4" fill="#ff00ff" stroke="#ff00ff">MH218733 UK 2014.916</text>
<text transform="translate(245.0,242.0) rotate(177.98) translate(158.8,0) rotate(180)" text-anchor="end" dy="2.4" fill="#ff00ff" stroke="#ff00ff">MH218657 UK 2015.883</text>
<text transform="translate(245.0,242.0) rotate(180.10) translate(158.6,0) rotate(180)" text-anchor="end" dy="2.4" fill="#ff00ff" stroke="#ff00ff">MH218697 UK 2015.916</text>
<text transform="translate(245.0,242.0) rotate(182.20) translate(158.5,0) rotate(180)" text-anchor="end" dy="2.4" fill="#20b0f0" stroke="#20b0f0">AB662881 Japan 2009</text>
<text transform="translate(245.0,242.0) rotate(184.30) translate(158.5,0) rotate(180)" text-anchor="end" dy="2.4" fill="#20b0f0" stroke="#20b0f0">LC209461 Japan 2009</text>
<text transform="translate(245.0,242.0) rotate(186.40) translate(158.4,0) rotate(180)" text-anchor="end" dy="2.4" fill="#20b0f0" stroke="#20b0f0">AB662900 Japan 2010</text>
<text transform="translate(245.0,242.0) rotate(188.50) translate(158.3,0) rotate(180)" text-anchor="end" dy="2.4" fill="#20b0f0" stroke="#20b0f0">MH938339 Australia 2015.417</text>
<text transform="translate(245.0,242.0) rotate(190.60) translate(158.3,0) rotate(180)" text-anchor="end" dy="2.4" fill="#20b0f0" stroke="#20b0f0">LC145804 Japan 2014</text>
<text transform="translate(245.0,242.0) rotate(192.70) translate(167.2,0) rotate(180)" text-anchor="end" dy="2.4" fill="#20b0f0" stroke="#20b0f0">KC464505 China 2011.366</text>
<text transform="translate(245.0,242.0) rotate(194.80) translate(158.1,0) rotate(180)" text-anchor="end" dy="2.4" fill="#20b0f0" stroke="#20b0f0">MH938340 Australia 2013.383</text>
<text transform="translate(245.0,242.0) rotate(196.90) translate(158.1,0) rotate(180)" text-anchor="end" dy="2.4" fill="#20b0f0" stroke="#20b0f0">MK752949 USA 2014.638</text>
<text transform="translate(245.0,242.0) rotate(199.00) translate(158.0,0) rotate(180)" text-anchor="end" dy="2.4" fill="#20b0f0" stroke="#20b0f0">LC209466 Japan 2012</text>
<text transform="translate(245.0,242.0) rotate(201.10) translate(157.9,0) rotate(180)" text-anchor="end" dy="2.4" fill="#20b0f0" stroke="#20b0f0">KY457722 China 2014.917</text>
<text transform="translate(245.0,242.0) rotate(203.20) translate(157.9,0) rotate(180)" text-anchor="end" dy="2.4" fill="#20b0f0" stroke="#20b0f0">LC145799 Japan 2014</text>
<text transform="translate(245.0,242.0) rotate(205.30) translate(157.8,0) rotate(180)" text-anchor="end" dy="2.4" fill="#111111" stroke="#111111">AB662861 Japan 2008</text>
<text transform="translate(245.0,242.0) rotate(207.40) translate(157.7,0) rotate(180)" text-anchor="end" dy="2.4" fill="#c0304a" stroke="#c0304a">AB281085 Netherlands 2001</text>
<text transform="translate(245.0,242.0) rotate(209.50) translate(157.7,0) rotate(180)" text-anchor="end" dy="2.4" fill="#c0304a" stroke="#c0304a">AB281087 Netherlands 2002</text>
<text transform="translate(245.0,242.0) rotate(211.60) translate(157.6,0) rotate(180)" text-anchor="end" dy="2.4" fill="#c0304a" stroke="#c0304a">AB281088 Netherlands 2003</text>
<text transform="translate(245.0,242.0) rotate(213.70) translate(157.5,0) rotate(180)" text-anchor="end" dy="2.4" fill="#c0304a" stroke="#c0304a">AB281086 Netherlands 2003</text>
<text transform="translate(245.0,242.0) rotate(215.80) translate(157.5,0) rotate(180)" text-anchor="end" dy="2.4" fill="#c0304a" stroke="#c0304a">AB279553 Japan 1997</text>
<text transform="translate(245.0,242.0) rotate(217.90) translate(157.4,0) rotate(180)" text-anchor="end" dy="2.4" fill="#c0304a" stroke="#c0304a">AB281094 Netherlands 2001</text>
<text transform="translate(245.0,242.0) rotate(220.00) translate(157.4,0) rotate(180)" text-anchor="end" dy="2.4" fill="#c0304a" stroke="#c0304a">AB279563 Japan 2004</text>
<text transform="translate(245.0,242.0) rotate(222.10) translate(157.3,0) rotate(180)" text-anchor="end" dy="2.4" fill="#c0304a" stroke="#c0304a">AB279567 Japan 2004</text>
<text transform="translate(245.0,242.0) rotate(224.20) translate(157.3,0) rotate(180)" text-anchor="end" dy="2.4" fill="#3f7fd0" stroke="#3f7fd0">AB662941 Japan 2010</text>
<text transform="translate(245.0,242.0) rotate(226.30) translate(157.2,0) rotate(180)" text-anchor="end" dy="2.4" fill="#3f7fd0" stroke="#3f7fd0">LC209474 Japan 2010</text>
<text transform="translate(245.0,242.0) rotate(228.40) translate(157.2,0) rotate(180)" text-anchor="end" dy="2.4" fill="#3f7fd0" stroke="#3f7fd0">AB662868 Japan 2010</text>
<text transform="translate(245.0,242.0) rotate(230.50) translate(157.1,0) rotate(180)" text-anchor="end" dy="2.4" fill="#3f7fd0" stroke="#3f7fd0">LC209472 Japan 2010</text>
<text transform="translate(245.0,242.0) rotate(232.60) translate(157.1,0) rotate(180)" text-anchor="end" dy="2.4" fill="#3f7fd0" stroke="#3f7fd0">AB662891 Japan 2010</text>
<text transform="translate(245.0,242.0) rotate(234.70) translate(157.0,0) rotate(180)" text-anchor="end" dy="2.4" fill="#3f7fd0" stroke="#3f7fd0">AB662875 Japan 2010</text>
<text transform="translate(245.0,242.0) rotate(236.80) translate(157.1,0) rotate(180)" text-anchor="end" dy="2.4" fill="#2fb87a" stroke="#2fb87a">AB281081 Netherlands 1999</text>
<text transform="translate(245.0,242.0) rotate(238.90) translate(157.3,0) rotate(180)" text-anchor="end" dy="2.4" fill="#2fb87a" stroke="#2fb87a">AB281082 Netherlands 2006</text>
<text transform="translate(245.0,242.0) rotate(241.00) translate(157.4,0) rotate(180)" text-anchor="end" dy="2.4" fill="#2fb87a" stroke="#2fb87a">AB281083 Netherlands 2008</text>
<text transform="translate(245.0,242.0) rotate(243.10) translate(157.5,0) rotate(180)" text-anchor="end" dy="2.4" fill="#111111" stroke="#111111">AY054300 USA 1997</text>
<text transform="translate(245.0,242.0) rotate(245.20) translate(157.7,0) rotate(180)" text-anchor="end" dy="2.4" fill="#111111" stroke="#111111">X81679 UK 1989.75</text>
<text transform="translate(245.0,242.0) rotate(247.30) translate(166.8,0) rotate(180)" text-anchor="end" dy="2.4" fill="#111111" stroke="#111111">JN699017 Malaysia 1978.499</text>
<text transform="translate(245.0,242.0) rotate(249.40) translate(162.0,0) rotate(180)" text-anchor="end" dy="2.4" fill="#111111" stroke="#111111">MF405169 USA 1971.083</text>
</g>
<g id="boots" font-size="3.8" fill="#39404f" font-family="Liberation Sans, sans-serif">
<text x="329.3" y="198.3">97</text>
<text x="330.4" y="210.6">96</text>
<text x="371.8" y="188.2">92</text>
<text x="384.0" y="209.0">94</text>
<text x="377.4" y="224.0">94</text>
<text x="387.5" y="228.5">53</text>
<text x="317.8" y="274.7">77</text>
<text x="247.9" y="316.9">8</text>
<text x="274.5" y="312.7">8</text>
<text x="291.1" y="314.3">8</text>
<text x="360.0" y="272.1">95</text>
<text x="373.0" y="296.5">98</text>
<text x="378.0" y="303.0">99</text>
<text x="350.3" y="309.5">84</text>
<text x="343.8" y="337.1">80</text>
<text x="329.2" y="350.1">54</text>
<text x="108.6" y="189.3">86</text>
<text x="118.4" y="197.4">83</text>
<text x="128.1" y="217.4">94</text>
<text x="134.2" y="228.4">89</text>
<text x="128.1" y="244.2">91</text>
<text x="102.0" y="244.6">100</text>
<text x="106.5" y="248.6">99</text>
<text x="107.6" y="280.3">100</text>
<text x="114.1" y="283.6">86</text>
<text x="120.6" y="286.8">90</text>
<text x="110.9" y="308.0">94</text>
<text x="133.7" y="311.2">100</text>
<text x="141.8" y="317.7">86</text>
<text x="138.5" y="338.9">80</text>
<text x="146.7" y="348.6">98</text>
<text x="174.6" y="144.3">100</text>
<text x="152.0" y="173.3">100</text>
<text x="179.0" y="114.3">97</text>
<text x="163.0" y="140.3">94</text>
<text x="308.3" y="115.1">8</text>
<text x="309.3" y="121.2">9</text>
</g>
<g id="dots" fill="#ff0000">
<circle cx="402.0" cy="196.1" r="3.4"/>
<circle cx="87.3" cy="206.5" r="3.4"/>
<circle cx="182.7" cy="93.2" r="3.4"/>
</g>
<g id="legend" stroke="#000" stroke-width="0.15">
<text x="568" y="29.6" font-size="19" fill="#000">Cluster</text>
<rect x="569.5" y="39.00" width="13.4" height="13.6" fill="#000000" stroke="none"/>
<text x="592.5" y="51.50" font-size="19" fill="#000">UG</text>
<rect x="569.5" y="63.60" width="13.4" height="13.6" fill="#3cc79a" stroke="none"/>
<text x="592.5" y="74.74" font-size="19" fill="#000">Cluster I</text>
<rect x="569.5" y="86.00" width="13.4" height="13.6" fill="#5a9be0" stroke="none"/>
<text x="592.5" y="97.98" font-size="19" fill="#000">Cluster II</text>
<rect x="569.5" y="110.60" width="13.4" height="13.6" fill="#c4405e" stroke="none"/>
<text x="592.5" y="121.22" font-size="19" fill="#000">Cluster III</text>
<rect x="569.5" y="135.10" width="13.4" height="13.6" fill="#ff00ff" stroke="none"/>
<text x="592.5" y="144.46" font-size="19" fill="#000">Cluster IV</text>
<rect x="569.5" y="156.10" width="13.4" height="13.6" fill="#45cbf7" stroke="none"/>
<text x="592.5" y="167.70" font-size="19" fill="#000">Cluster V</text>
<rect x="569.5" y="177.90" width="13.4" height="13.6" fill="#ffa526" stroke="none"/>
<text x="592.5" y="190.94" font-size="19" fill="#000">Cluster VI</text>
<rect x="569.5" y="200.00" width="13.4" height="13.6" fill="#b69ddc" stroke="none"/>
<text x="592.5" y="214.18" font-size="19" fill="#000">Cluster VII</text>
<rect x="569.5" y="225.90" width="13.4" height="13.6" fill="#ff3b52" stroke="none"/>
<text x="592.5" y="237.42" font-size="19" fill="#000">Cluster VIII</text>
</g>
</svg>
</body></html>
